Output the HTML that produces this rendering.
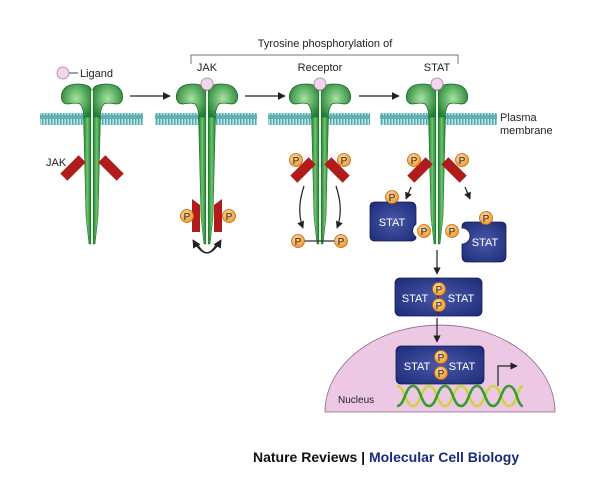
<!DOCTYPE html>
<html><head><meta charset="utf-8"><style>
html,body{margin:0;padding:0;background:#fff;}
svg{display:block;font-family:"Liberation Sans",sans-serif;}
</style></head><body>
<svg width="600" height="500" viewBox="0 0 600 500" xmlns="http://www.w3.org/2000/svg">
<defs>
<linearGradient id="stalk" x1="0" x2="1" y1="0" y2="0">
<stop offset="0" stop-color="#1e7a2e"/><stop offset="0.5" stop-color="#6cc46c"/><stop offset="1" stop-color="#1e7a2e"/>
</linearGradient>
<radialGradient id="cap" cx="0.5" cy="0.4" r="0.6">
<stop offset="0" stop-color="#a6e4a0"/><stop offset="1" stop-color="#1f7d30"/>
</radialGradient>
<radialGradient id="pg" cx="0.4" cy="0.35" r="0.7">
<stop offset="0" stop-color="#ffd9a0"/><stop offset="1" stop-color="#f0962a"/>
</radialGradient>
<radialGradient id="stat" cx="0.5" cy="0.5" r="0.7">
<stop offset="0" stop-color="#4a5aa8"/><stop offset="1" stop-color="#1c2a78"/>
</radialGradient>
<pattern id="mem" width="3" height="13" patternUnits="userSpaceOnUse">
<rect width="3" height="13" fill="#bfe6e6"/>
<rect x="0" width="1.4" height="13" fill="#4fa8aa"/>
<rect width="3" height="2" fill="#5fb0b2"/><rect y="11" width="3" height="2" fill="#5fb0b2"/>
</pattern>
<g id="half">
<path d="M -1 -18 C -3 -23 -14 -24 -22 -22 C -31 -19 -33 -8 -28 -4 C -24 -1 -18 -6 -12 -3 C -9 0 -8 6 -8 14 L -1 14 Z" fill="url(#cap)" stroke="#1a6a28" stroke-width="0.8"/>
<path d="M -8.5 10 L -1 10 L -1 137 L -3 137 L -6 110 Z" fill="url(#stalk)" stroke="#1a6a28" stroke-width="0.5"/>
</g>
<g id="rec">
<use href="#half"/>
<use href="#half" transform="scale(-1,1)"/>
<rect x="-1" y="-16" width="2" height="153" fill="#e8f4e8"/>
</g>
<g id="P">
<circle r="6.5" fill="url(#pg)" stroke="#c06a10" stroke-width="0.8"/>
<text y="4" text-anchor="middle" font-size="10" fill="#222">P</text>
</g>
<marker id="ah" viewBox="0 0 10 10" refX="9" refY="5" markerWidth="6" markerHeight="6" orient="auto"><path d="M0 0 L10 5 L0 10 z" fill="#222"/></marker>
</defs>

<rect x="40" y="113" width="103" height="12" fill="url(#mem)"/>
<rect x="155" y="113" width="102" height="12" fill="url(#mem)"/>
<rect x="268" y="113" width="102" height="12" fill="url(#mem)"/>
<rect x="380" y="113" width="117" height="12" fill="url(#mem)"/>
<text x="500" y="121" font-size="11" fill="#222">Plasma</text>
<text x="500" y="134" font-size="11" fill="#222">membrane</text>

<text x="325" y="47" font-size="11" text-anchor="middle" fill="#222">Tyrosine phosphorylation of</text>
<path d="M191 64 V55 H458 V64" fill="none" stroke="#777" stroke-width="1"/>
<text x="207" y="71" font-size="11" text-anchor="middle" fill="#222">JAK</text>
<text x="320" y="71" font-size="11" text-anchor="middle" fill="#222">Receptor</text>
<text x="437" y="71" font-size="11" text-anchor="middle" fill="#222">STAT</text>

<circle cx="63" cy="73" r="6" fill="#f2d6ee" stroke="#a77aa0" stroke-width="0.8"/>
<line x1="69" y1="73" x2="78" y2="73" stroke="#444"/>
<text x="80" y="77" font-size="11" fill="#222">Ligand</text>

<line x1="130" y1="96" x2="170" y2="96" stroke="#222" stroke-width="1.3" marker-end="url(#ah)"/>
<line x1="245" y1="96" x2="285" y2="96" stroke="#222" stroke-width="1.3" marker-end="url(#ah)"/>
<line x1="359" y1="96" x2="399" y2="96" stroke="#222" stroke-width="1.3" marker-end="url(#ah)"/>

<g transform="translate(92,107)"><use href="#rec"/></g>
<g fill="#b01c1c">
<rect x="-5" y="-13" width="10" height="26" transform="translate(73,168) rotate(45)"/>
<rect x="-5" y="-13" width="10" height="26" transform="translate(111,168) rotate(-45)"/>
</g>
<text x="46" y="166" font-size="11" fill="#222">JAK</text>

<g transform="translate(207,107)"><use href="#rec"/></g>
<circle cx="207" cy="84" r="6" fill="#f2d6ee" stroke="#a77aa0" stroke-width="0.8"/>
<path d="M192 199 L200 205 L200 232 L192 232 Z" fill="#b01c1c"/>
<path d="M222 199 L214 205 L214 232 L222 232 Z" fill="#b01c1c"/>
<use href="#P" transform="translate(187,216)"/>
<use href="#P" transform="translate(229,216)"/>
<path d="M197 243 Q207 264 221 240" fill="none" stroke="#222" stroke-width="1.4" marker-end="url(#ah)"/>
<path d="M217 243 Q207 264 193 240" fill="none" stroke="#222" stroke-width="1.4" marker-end="url(#ah)"/>

<g transform="translate(320,107)"><use href="#rec"/></g>
<circle cx="320" cy="84" r="6" fill="#f2d6ee" stroke="#a77aa0" stroke-width="0.8"/>
<g fill="#b01c1c">
<rect x="-5" y="-13" width="10" height="26" transform="translate(303,170) rotate(45)"/>
<rect x="-5" y="-13" width="10" height="26" transform="translate(337,170) rotate(-45)"/>
</g>
<use href="#P" transform="translate(296,160)"/>
<use href="#P" transform="translate(344,160)"/>
<path d="M304 186 Q296 210 303 228" fill="none" stroke="#222" stroke-width="1.2" marker-end="url(#ah)"/>
<path d="M336 186 Q344 210 337 228" fill="none" stroke="#222" stroke-width="1.2" marker-end="url(#ah)"/>
<line x1="300" y1="241" x2="340" y2="241" stroke="#333" stroke-width="1.2"/>
<use href="#P" transform="translate(298,241)"/>
<use href="#P" transform="translate(341,241)"/>

<g transform="translate(437,107)"><use href="#rec"/></g>
<circle cx="437" cy="84" r="6" fill="#f2d6ee" stroke="#a77aa0" stroke-width="0.8"/>
<g fill="#b01c1c">
<rect x="-5" y="-13" width="10" height="26" transform="translate(420,170) rotate(45)"/>
<rect x="-5" y="-13" width="10" height="26" transform="translate(454,170) rotate(-45)"/>
</g>
<use href="#P" transform="translate(414,160)"/>
<use href="#P" transform="translate(462,160)"/>
<line x1="411" y1="187" x2="406" y2="199" stroke="#222" stroke-width="1.2" marker-end="url(#ah)"/>
<line x1="465" y1="187" x2="470" y2="199" stroke="#222" stroke-width="1.2" marker-end="url(#ah)"/>
<path d="M375 202 H410 Q416 202 416 208 V224 A8 8 0 0 0 416 237 V237 Q416 241 410 241 H375 Q370 241 370 236 V207 Q370 202 375 202 Z" fill="url(#stat)" stroke="#121c55" stroke-width="0.8"/>
<text x="392" y="226" font-size="11" fill="#fff" text-anchor="middle">STAT</text>
<use href="#P" transform="translate(392,197)"/>
<use href="#P" transform="translate(424,231)"/>
<path d="M467 222 H501 Q506 222 506 227 V256 Q506 262 500 262 H467 Q462 262 462 256 V244 A8 8 0 0 0 462 228 V227 Q462 222 467 222 Z" fill="url(#stat)" stroke="#121c55" stroke-width="0.8"/>
<text x="485" y="246" font-size="11" fill="#fff" text-anchor="middle">STAT</text>
<use href="#P" transform="translate(486,218)"/>
<use href="#P" transform="translate(452,231)"/>

<line x1="437" y1="250" x2="437" y2="274" stroke="#222" stroke-width="1.2" marker-end="url(#ah)"/>

<rect x="395" y="278" width="87" height="38" rx="5" fill="url(#stat)" stroke="#121c55" stroke-width="0.8"/>
<line x1="438" y1="278" x2="438" y2="316" stroke="#121c55" stroke-width="0.8"/>
<text x="415" y="302" font-size="11" fill="#fff" text-anchor="middle">STAT</text>
<text x="461" y="302" font-size="11" fill="#fff" text-anchor="middle">STAT</text>
<use href="#P" transform="translate(439,289)"/>
<use href="#P" transform="translate(439,305)"/>

<path d="M325 412 A115 87 0 0 1 555 412 Z" fill="#ecc8e4" stroke="#8a6a88" stroke-width="0.8"/>
<line x1="437" y1="318" x2="437" y2="342" stroke="#222" stroke-width="1.2" marker-end="url(#ah)"/>
<text x="338" y="403" font-size="10" fill="#222">Nucleus</text>
<rect x="396" y="346" width="88" height="38" rx="5" fill="url(#stat)" stroke="#121c55" stroke-width="0.8"/>
<text x="417" y="370" font-size="11" fill="#fff" text-anchor="middle">STAT</text>
<text x="462" y="370" font-size="11" fill="#fff" text-anchor="middle">STAT</text>
<use href="#P" transform="translate(441,357)"/>
<use href="#P" transform="translate(441,373)"/>
<path d="M397 386 C405 386 405 406 413 406 S421 386 429 386 S437 406 445 406 S453 386 461 386 S469 406 477 406 S485 386 493 386 S501 406 509 406 S517 386 523 386" fill="none" stroke="#c9d640" stroke-width="2.5"/>
<path d="M397 406 C405 406 405 386 413 386 S421 406 429 406 S437 386 445 386 S453 406 461 406 S469 386 477 386 S485 406 493 406 S501 386 509 386 S517 406 523 406" fill="none" stroke="#3a9a30" stroke-width="2.5"/>
<polyline points="498,386 498,366 517,366" fill="none" stroke="#222" stroke-width="1.2" marker-end="url(#ah)"/>

<text x="253" y="462" font-size="14" font-weight="bold" fill="#111">Nature Reviews | <tspan fill="#1a2a7a">Molecular Cell Biology</tspan></text>
</svg>
</body></html>
